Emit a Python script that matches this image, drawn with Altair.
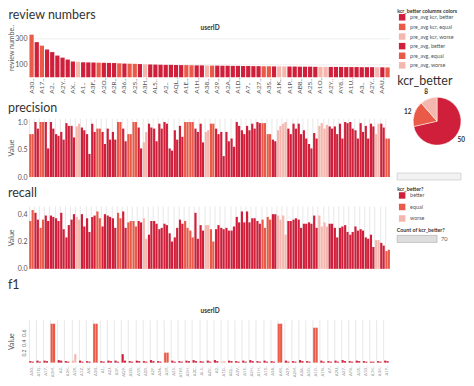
import altair as alt
import pandas as pd

# ---------------- data ----------------
even_labels = ["A30", "A17", "A2", "A2Y", "AX", "A1", "A3F", "A2O", "A2R", "A36", "A25", "A3H",
               "AL5", "A2", "AQL", "A1E", "A1H", "A38", "A29", "A2A", "A1D", "A7", "A27", "A3S",
               "A1K", "A1P", "AB8", "A25", "A1O", "A2Y", "AY8", "A1U", "A3", "A2Y", "AAU"]
odd_labels = ["A1Q", "A3M", "A2K", "A1Z", "A3B", "A2J", "AQ9", "A1R", "A2F", "A3T", "A1W", "A2C",
              "AZK", "A1G", "A3V", "A2H", "A1S", "AKR", "A2M", "A3D", "A1N", "A2U", "AP4", "A1B",
              "A3K", "A2E", "A1Y", "A3C", "AV2", "A1L", "A2P", "A3W", "A1F", "A2G", "A3Q"]
user_labels = [x for pair in zip(even_labels, odd_labels) for x in pair]
user_ids = [f"{lab}|{i}" for i, lab in enumerate(user_labels)]

review_numbers = [330, 272, 245, 215, 195, 168, 152, 137, 122, 120,
                  116, 115, 114, 113, 112, 111, 110, 108, 106, 105,
                  104, 102, 100, 99, 98, 97, 96, 96, 95, 94,
                  94, 93, 92, 92, 91, 90, 90, 89, 89, 88,
                  88, 87, 87, 86, 86, 85, 85, 84, 84, 84,
                  83, 83, 82, 82, 82, 81, 81, 81, 80, 80,
                  80, 79, 79, 79, 78, 78, 78, 77, 77, 76]

kcr_better = ["equal", "better", "equal", "better", "better", "better", "better", "better", "better", "worse",
              "better", "better", "better", "equal", "better", "better", "better", "equal", "better", "equal",
              "equal", "better", "worse", "better", "better", "better", "better", "better", "better", "better",
              "equal", "equal", "better", "better", "worse", "equal", "better", "better", "better", "better",
              "better", "better", "better", "better", "better", "equal", "equal", "better", "worse", "worse",
              "better", "better", "better", "better", "better", "better", "worse", "worse", "better", "better",
              "better", "better", "better", "better", "better", "better", "better", "worse", "better", "equal"]

prec_kcr = [0.78, 1.00, 1.00, 1.00, 1.00, 0.78, 0.82, 0.98, 0.93, 0.92,
            0.90, 0.78, 0.97, 0.88, 0.82, 0.88, 0.82, 1.00, 0.88, 0.78,
            1.00, 0.90, 0.63, 0.97, 0.88, 0.97, 1.00, 0.52, 0.85, 0.93,
            1.00, 1.00, 0.88, 0.97, 0.82, 0.97, 0.88, 0.82, 0.82, 0.70,
            1.00, 0.85, 0.93, 0.97, 1.00, 0.98, 0.78, 0.68, 0.85, 0.97,
            0.88, 0.97, 0.97, 0.85, 0.60, 0.80, 0.93, 0.88, 0.92, 0.92,
            0.97, 1.00, 1.00, 0.85, 0.98, 0.93, 0.97, 0.78, 0.97, 0.70]
prec_pre = [0.78, 0.88, 1.00, 0.52, 0.88, 0.75, 0.68, 0.93, 0.72, 0.97,
            0.85, 0.42, 0.82, 0.88, 0.60, 0.68, 0.68, 1.00, 0.65, 0.78,
            1.00, 0.52, 0.82, 0.90, 0.65, 0.88, 0.97, 0.48, 0.68, 0.73,
            1.00, 1.00, 0.82, 0.63, 0.85, 0.97, 0.78, 0.38, 0.65, 0.55,
            0.93, 0.78, 0.85, 0.88, 0.98, 0.98, 0.78, 0.65, 0.93, 1.00,
            0.78, 0.88, 0.78, 0.70, 0.52, 0.70, 0.98, 0.95, 0.88, 0.78,
            0.70, 0.98, 0.88, 0.70, 0.82, 0.70, 0.92, 0.97, 0.90, 0.70]

recall_kcr = [0.35, 0.41, 0.30, 0.39, 0.39, 0.37, 0.41, 0.23, 0.36, 0.38,
              0.40, 0.37, 0.38, 0.42, 0.31, 0.39, 0.37, 0.41, 0.42, 0.34,
              0.35, 0.35, 0.37, 0.25, 0.35, 0.29, 0.33, 0.26, 0.23, 0.36,
              0.35, 0.28, 0.41, 0.32, 0.32, 0.29, 0.29, 0.30, 0.30, 0.28,
              0.38, 0.42, 0.42, 0.37, 0.35, 0.36, 0.38, 0.40, 0.39, 0.39,
              0.35, 0.36, 0.36, 0.33, 0.34, 0.39, 0.39, 0.34, 0.33, 0.30,
              0.30, 0.32, 0.25, 0.31, 0.29, 0.23, 0.25, 0.21, 0.19, 0.13]
recall_pre = [0.43, 0.36, 0.36, 0.35, 0.38, 0.35, 0.29, 0.32, 0.40, 0.36,
              0.31, 0.27, 0.39, 0.37, 0.40, 0.38, 0.30, 0.37, 0.30, 0.35,
              0.31, 0.34, 0.22, 0.35, 0.33, 0.30, 0.32, 0.20, 0.30, 0.33,
              0.30, 0.23, 0.22, 0.28, 0.32, 0.20, 0.32, 0.29, 0.28, 0.31,
              0.34, 0.34, 0.34, 0.37, 0.33, 0.30, 0.36, 0.40, 0.36, 0.25,
              0.35, 0.37, 0.30, 0.33, 0.33, 0.30, 0.31, 0.31, 0.33, 0.23,
              0.31, 0.27, 0.27, 0.28, 0.28, 0.22, 0.16, 0.21, 0.17, 0.14]

f1_users = user_ids[:51]
f1_cat = ["better", "better", "better", "equal", "better", "better", "worse", "better", "better", "equal",
          "better", "better", "better", "better", "better", "better", "better", "better", "better", "equal",
          "better", "better", "better", "better", "better", "better", "better", "worse", "better", "better",
          "better", "better", "better", "better", "better", "equal", "better", "better", "better", "better",
          "equal", "better", "better", "better", "better", "better", "better", "better", "better", "better", "better"]
f1_kcr = [0.03, 0.04, 0.04, 0.78, 0.05, 0.03, 0.04, 0.04, 0.03, 0.78,
          0.03, 0.04, 0.04, 0.17, 0.03, 0.04, 0.03, 0.05, 0.03, 0.20,
          0.04, 0.03, 0.04, 0.05, 0.03, 0.04, 0.05, 0.02, 0.04, 0.03,
          0.04, 0.05, 0.03, 0.04, 0.03, 0.78, 0.04, 0.03, 0.05, 0.03,
          0.70, 0.04, 0.03, 0.04, 0.05, 0.03, 0.04, 0.03, 0.02, 0.03, 0.04]
f1_pre = [0.02, 0.02, 0.03, 0.78, 0.04, 0.02, 0.17, 0.02, 0.02, 0.78,
          0.02, 0.03, 0.02, 0.04, 0.02, 0.03, 0.02, 0.03, 0.02, 0.20,
          0.02, 0.02, 0.03, 0.03, 0.02, 0.02, 0.03, 0.03, 0.03, 0.02,
          0.02, 0.03, 0.02, 0.02, 0.02, 0.78, 0.02, 0.02, 0.03, 0.02,
          0.70, 0.02, 0.02, 0.02, 0.03, 0.02, 0.03, 0.02, 0.02, 0.02, 0.03]

categories = ["better", "equal", "worse"]
cat_counts = [50, 12, 8]
kcr_colors = ["#cf1f3a", "#ea5a48", "#f5b6ad"]
pre_colors = ["#5e5151", "#9a8e8e", "#dcd4d3"]
measures = ["pre_avg kcr", "pre_avg"]
legend_names = [f"{m}, {c}" for m in measures for c in categories]
legend_colors = kcr_colors + pre_colors

# ---------------- style ----------------
FONT = "Lato"
W = 362
TXT = "#333333"
LAB = "#555555"
YEXT = 13
yaxis_common = dict(ticks=False, domain=False, labelFontSize=7, labelColor=LAB, labelPadding=2,
                    minExtent=YEXT, maxExtent=YEXT, titleFontSize=7, titleFontWeight="normal",
                    titleColor=LAB, titlePadding=1)


def section_title(text, offset=2):
    return alt.TitleParams(text, anchor="start", frame="bounds", fontSize=12.5, fontWeight="normal",
                           color=TXT, offset=offset, font=FONT)


# ---------------- review numbers (header zone kept inside the plot group) ----------------
BARH = 44
HEAD = 19
RH = BARH + HEAD
RMAX = 340
review_df = pd.DataFrame({"user": user_ids, "review": review_numbers, "kcr": kcr_better})
rev_bars = alt.Chart(review_df).mark_bar().encode(
    x=alt.X("user:N", sort=user_ids,
            scale=alt.Scale(paddingInner=0.18, paddingOuter=0.1),
            axis=alt.Axis(values=user_ids[::2], labelExpr="split(datum.value,'|')[0] + '..'",
                          labelAngle=270, labelAlign="left", labelBaseline="middle",
                          labelPadding=16, labelFontSize=6.5, labelColor=LAB,
                          ticks=False, domain=False,
                          title="review numbers", titleFontSize=12.5, titleFontWeight="normal",
                          titleColor=TXT, titleX=-(YEXT + 8), titleY=-(RH + 6), titleAlign="left",
                          titleBaseline="top", titleFont=FONT)),
    y=alt.Y("review:Q", scale=alt.Scale(domain=[0, RMAX * RH / BARH], nice=False),
            axis=alt.Axis(values=[100, 200, 300], title="review numbe..", grid=True,
                          gridColor="#eeeeee", titleY=HEAD + 14, **yaxis_common)),
    color=alt.Color("kcr:N", scale=alt.Scale(domain=categories, range=kcr_colors), legend=None),
)
rev_head = alt.Chart(review_df).mark_bar(opacity=0).encode(
    x=alt.X("user:N", sort=user_ids,
            axis=alt.Axis(orient="top", labels=False, ticks=False, domain=False, grid=False,
                          title="userID", titleFontSize=6.5, titleFontWeight="bold", titleColor=TXT,
                          titleX=W / 2, titleY=10, titleAlign="center", titleBaseline="top")),
    y=alt.Y("review:Q", scale=alt.Scale(domain=[0, RMAX * RH / BARH], nice=False)),
)
review_chart = alt.layer(rev_bars, rev_head).resolve_axis(x="independent").properties(
    width=W, height=RH)


# ---------------- precision / recall / f1 ----------------
def long_df(users, cats, kv, pv):
    rows = []
    for u, c, a, b in zip(users, cats, kv, pv):
        rows.append({"user": u, "measure": measures[0], "value": a, "key": f"{measures[0]}, {c}"})
        rows.append({"user": u, "measure": measures[1], "value": b, "key": f"{measures[1]}, {c}"})
    return pd.DataFrame(rows)


def grouped(df, users, domain_top, ticks, height, title, xaxis, yextra=None, title_offset=2,
            pad_inner=0.12):
    yax = dict(values=ticks, format=".1f", title="Value", grid=False, **yaxis_common)
    if yextra:
        yax.update(yextra)
    return alt.Chart(df).mark_bar().encode(
        x=alt.X("user:N", sort=users, scale=alt.Scale(paddingInner=pad_inner, paddingOuter=0.05),
                axis=alt.Axis(**xaxis)),
        xOffset=alt.XOffset("measure:N", sort=measures, scale=alt.Scale(paddingInner=0.08)),
        y=alt.Y("value:Q", scale=alt.Scale(domain=[0, domain_top], nice=False), axis=alt.Axis(**yax)),
        color=alt.Color("key:N", scale=alt.Scale(domain=legend_names, range=legend_colors), legend=None),
    ).properties(width=W, height=height, title=section_title(title, title_offset))


grid_axis = dict(labels=False, ticks=False, domain=False, title=None, grid=True,
                 gridColor="#d6d6d6", gridWidth=0.6, bandPosition=0)

prec_chart = grouped(long_df(user_ids, kcr_better, prec_kcr, prec_pre), user_ids, 1.07,
                     [0, 0.5, 1.0], 59, "precision", grid_axis, title_offset=4)
recall_chart = grouped(long_df(user_ids, kcr_better, recall_kcr, recall_pre), user_ids, 0.46,
                       [0, 0.2, 0.4], 63, "recall", grid_axis, title_offset=6)

FH = 43
f1_axis = dict(labelExpr="split(datum.value,'|')[0] + '..'", labelAngle=270, labelFontSize=4.2,
               labelColor="#8a8a8a", labelPadding=3, ticks=False, domain=False, grid=True,
               gridColor="#d6d6d6", gridWidth=0.6, bandPosition=0,
               title="userID", titleFontSize=6.5, titleFontWeight="bold", titleColor=TXT,
               titleX=W / 2, titleY=-(FH + 12), titleAlign="center", titleBaseline="top")
f1_chart = grouped(long_df(f1_users, f1_cat, f1_kcr, f1_pre), f1_users, 0.86,
                   [0.2, 0.4, 0.6], FH, "f1", f1_axis,
                   yextra=dict(labelAngle=270, labelAlign="center", labelBaseline="bottom",
                               labelFontSize=5),
                   title_offset=16, pad_inner=0.2)

left = alt.vconcat(review_chart, prec_chart, recall_chart, f1_chart, spacing=7)

# ---------------- right column ----------------
RW = 60
leg1_df = pd.DataFrame({"name": legend_names})
leg1_base = alt.Chart(leg1_df).encode(
    y=alt.Y("name:N", sort=legend_names, axis=None, scale=alt.Scale(padding=0.3)))
leg1 = alt.layer(
    leg1_base.mark_square(size=42, opacity=1).encode(
        x=alt.value(5),
        color=alt.Color("name:N", scale=alt.Scale(domain=legend_names, range=legend_colors), legend=None)),
    leg1_base.mark_text(align="left", baseline="middle", fontSize=5.4, color=LAB, font=FONT).encode(
        x=alt.value(13), text="name:N"),
).properties(width=RW, height=54,
             title=alt.TitleParams("kcr_better columns colors", anchor="start", fontSize=5.3,
                                   fontWeight="bold", color=TXT, offset=0, font=FONT))

pie_df = pd.DataFrame({"cat": categories, "count": cat_counts})
pie_base = alt.Chart(pie_df).encode(
    theta=alt.Theta("count:Q", stack=True),
    order=alt.Order("cat:N", sort="ascending"),
)
pie = alt.layer(
    pie_base.mark_arc(outerRadius=24, stroke="white", strokeWidth=0.5).encode(
        x=alt.value(40),
        color=alt.Color("cat:N", scale=alt.Scale(domain=categories, range=kcr_colors), legend=None)),
    pie_base.mark_text(radius=31, fontSize=6.5, fontWeight="bold", color=TXT, font=FONT).encode(
        x=alt.value(40), text="count:Q"),
).properties(width=RW, height=60,
             title=alt.TitleParams("kcr_better", anchor="start", fontSize=12.5, fontWeight="normal",
                                   color=TXT, offset=2, font=FONT))

scroll = alt.Chart(pd.DataFrame({"a": [0]})).mark_rect(fill="#f2f2f2", stroke="#c8c8c8", strokeWidth=0.7).encode(
    x=alt.value(0), x2=alt.value(RW + 4), y=alt.value(17), y2=alt.value(24)
).properties(width=RW, height=24)

leg2_df = pd.DataFrame({"name": categories})
leg2_base = alt.Chart(leg2_df).encode(
    y=alt.Y("name:N", sort=categories, axis=None, scale=alt.Scale(padding=0.3)))
leg2 = alt.layer(
    leg2_base.mark_square(size=42, opacity=1).encode(
        x=alt.value(5),
        color=alt.Color("name:N", scale=alt.Scale(domain=categories, range=kcr_colors), legend=None)),
    leg2_base.mark_text(align="left", baseline="middle", fontSize=5.4, color=LAB, font=FONT).encode(
        x=alt.value(13), text="name:N"),
).properties(width=RW, height=30,
             title=alt.TitleParams("kcr_better?", anchor="start", fontSize=5.3, fontWeight="bold",
                                   color=TXT, offset=0, font=FONT))

cnt_df = pd.DataFrame({"label": ["Count of kcr_better?"], "count": [sum(cat_counts)]})
cnt_base = alt.Chart(cnt_df).encode(
    x=alt.X("count:Q", scale=alt.Scale(domain=[0, sum(cat_counts)], nice=False), axis=None))
cnt = alt.layer(
    cnt_base.mark_bar(fill="#dedede", stroke="#aaaaaa", strokeWidth=0.6, height=7),
    cnt_base.mark_text(align="left", dx=4, fontSize=5.6, color=LAB, font=FONT).encode(text="count:Q"),
).properties(width=40, height=8,
             title=alt.TitleParams("Count of kcr_better?", anchor="start", fontSize=5.3,
                                   fontWeight="bold", color=TXT, offset=2, font=FONT))

right = alt.vconcat(leg1, pie, scroll, leg2, cnt, spacing=5)

chart = alt.hconcat(left, right, spacing=6).properties(padding=0).configure(
    font=FONT).configure_view(stroke=None)

chart.save("out.html", embed_options={"renderer": "svg", "actions": False})
